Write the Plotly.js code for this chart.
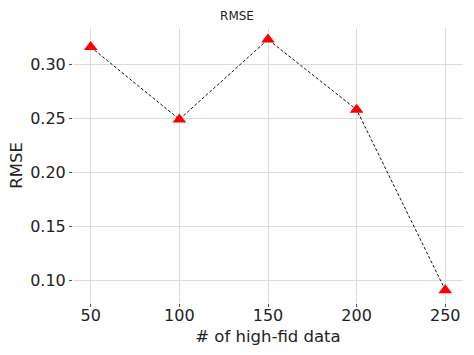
<!DOCTYPE html>
<html><head><meta charset="utf-8">
<script src="https://cdn.plot.ly/plotly-3.0.1.min.js"></script>
<style>body{margin:0;padding:0;background:#fff}#chart{width:474px;height:355px}</style>
</head><body><div id="chart"></div>
<script>
const xValues = [50, 100, 150, 200, 250];
const rmseValues = [0.316, 0.249, 0.323, 0.258, 0.091];
const xTicks = [50, 100, 150, 200, 250];
const yTicks = [0.10, 0.15, 0.20, 0.25, 0.30];

const trace = {
  x: xValues, y: rmseValues, type: 'scatter', mode: 'lines+markers',
  line: {color: '#111', width: 1, dash: '3px,2px'},
  marker: {symbol: 'triangle-up', color: '#ff0000', size: 12, line: {width: 0}}
};
const font = 'DejaVu Sans, sans-serif';
const layout = {
  width: 474, height: 355,
  margin: {l: 73, r: 11, t: 28, b: 52},
  paper_bgcolor: '#fff', plot_bgcolor: '#fff',
  showlegend: false,
  font: {family: font, color: '#222'},
  title: {text: 'RMSE', font: {size: 12, family: font, color: '#222'}, x: 0.5, xanchor: 'center', y: 0.955, yanchor: 'middle'},
  xaxis: {
    range: [40, 260], tickvals: xTicks, ticktext: xTicks.map(String),
    showgrid: true, gridcolor: '#dcdcdc', gridwidth: 1, zeroline: false, showline: false,
    ticks: 'outside', ticklen: 3, tickcolor: '#555', tickwidth: 1, ticklabelstandoff: -5,
    tickfont: {size: 16, family: font, color: '#222'},
    title: {text: '# of high-fid data', font: {size: 16.5, family: font, color: '#222'}, standoff: 6}
  },
  yaxis: {
    range: [0.0791, 0.3336], tickvals: yTicks, ticktext: yTicks.map(v => v.toFixed(2)),
    showgrid: true, gridcolor: '#dcdcdc', gridwidth: 1, zeroline: false, showline: false,
    ticks: 'outside', ticklen: 3, tickcolor: '#555', tickwidth: 1,
    tickfont: {size: 16, family: font, color: '#222'},
    title: {text: 'RMSE', font: {size: 16.5, family: font, color: '#222'}, standoff: 3}
  }
};
Plotly.newPlot('chart', [trace], layout, {displayModeBar: false, staticPlot: true});
</script></body></html>
